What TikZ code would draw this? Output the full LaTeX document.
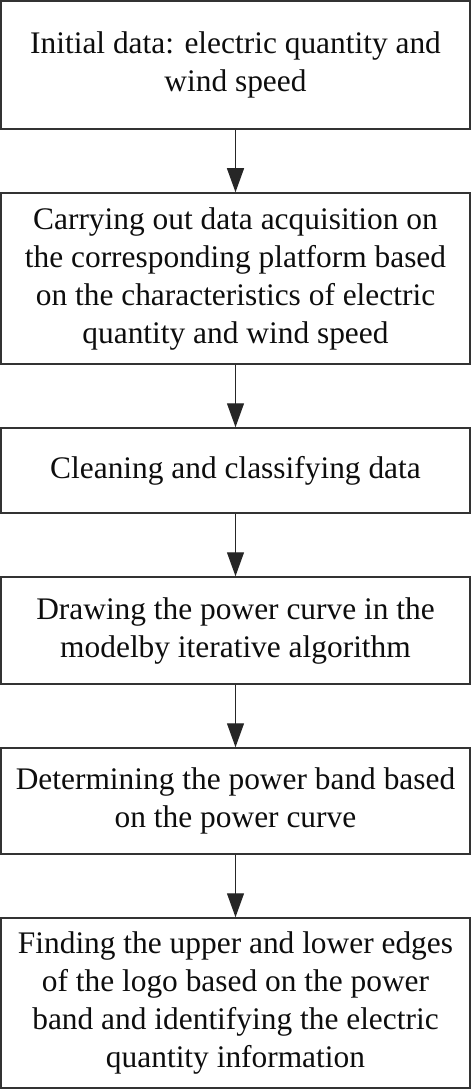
\documentclass[tikz,border=0pt]{standalone}
\usepackage{fontspec}
\setmainfont{Liberation Serif}
\usetikzlibrary{arrows.meta}
\begin{document}
\begin{tikzpicture}[x=1pt, y=1pt,
    stepbox/.style={draw=black!80, line width=0.75pt, minimum width=234.5pt, align=center, inner sep=0pt, text=black!95, font=\fontsize{15.7}{19}\selectfont},
    flow/.style={-{Triangle[length=12pt, width=8.5pt]}, line width=0.6pt, black!85}]
    \useasboundingbox (0,0) rectangle (237,-545);

    % Nodes
    \node[stepbox, minimum height=64pt] (Init) at (117.75,-32.5) {Initial data: electric quantity and\\wind speed};
    \node[stepbox, minimum height=85.5pt] (Acquire) at (117.75,-139.25) {Carrying out data acquisition on\\the corresponding platform based\\on the characteristics of electric\\quantity and wind speed};
    \node[stepbox, minimum height=42.5pt] (Clean) at (117.75,-235.25) {Cleaning and classifying data};
    \node[stepbox, minimum height=53.5pt] (Curve) at (117.75,-315.25) {Drawing the power curve in the\\modelby iterative algorithm};
    \node[stepbox, minimum height=53pt] (Band) at (117.75,-400.5) {Determining the power band based\\on the power curve};
    \node[stepbox, minimum height=85pt] (Edges) at (117.75,-501.5) {Finding the upper and lower edges\\of the logo based on the power\\band and identifying the electric\\quantity information};

    % Arrows
    \draw[flow] (Init) -- (Acquire);
    \draw[flow] (Acquire) -- (Clean);
    \draw[flow] (Clean) -- (Curve);
    \draw[flow] (Curve) -- (Band);
    \draw[flow] (Band) -- (Edges);
\end{tikzpicture}
\end{document}
